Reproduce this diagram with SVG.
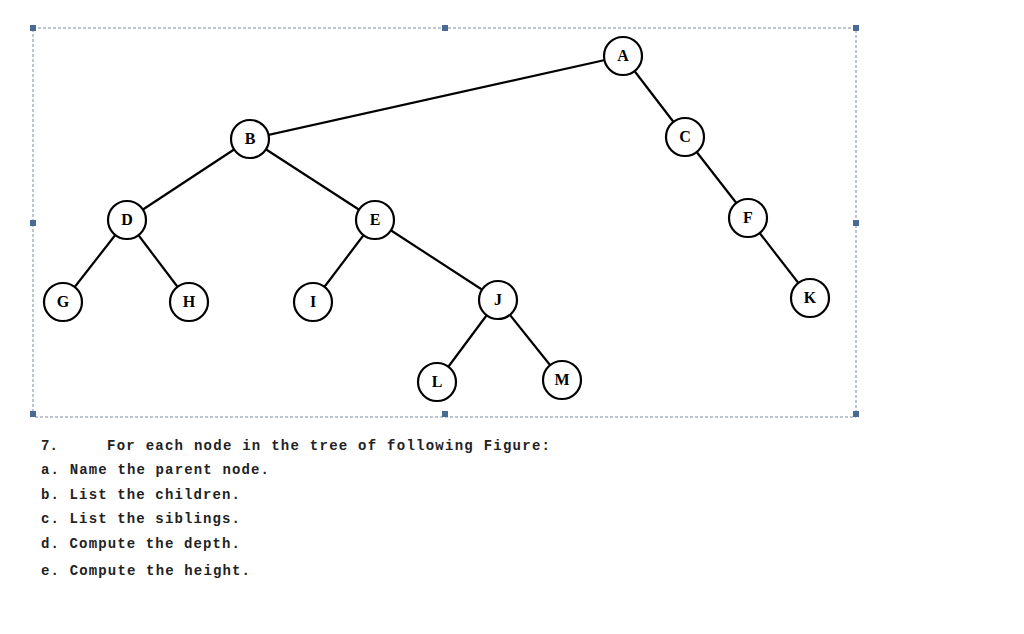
<svg xmlns="http://www.w3.org/2000/svg" width="1024" height="634" viewBox="0 0 1024 634">
<style>
.n circle{fill:#fff;stroke:#000;stroke-width:2.2}
.n text{font-family:"Liberation Serif",serif;font-weight:bold;font-size:16px;text-anchor:middle}
.e line{stroke:#000;stroke-width:2.2}
.h{fill:#4a6a96}
.t{font-family:"Liberation Mono",monospace;font-size:14px;font-weight:bold;fill:#222}
</style>
<rect x="33" y="28" width="823" height="389" fill="none" stroke="#7a8ca8" stroke-dasharray="3,2"/>
<g>
<rect class="h" x="30" y="25" width="6" height="6"/><rect class="h" x="442" y="25" width="6" height="6"/><rect class="h" x="853" y="25" width="6" height="6"/>
<rect class="h" x="30" y="220" width="6" height="6"/><rect class="h" x="853" y="220" width="6" height="6"/>
<rect class="h" x="30" y="411" width="6" height="6"/><rect class="h" x="442" y="411" width="6" height="6"/><rect class="h" x="853" y="411" width="6" height="6"/>
</g>
<g class="e">
<line x1="623" y1="56" x2="250" y2="139"/><line x1="623" y1="56" x2="685" y2="137"/>
<line x1="685" y1="137" x2="748" y2="218"/><line x1="748" y1="218" x2="810" y2="298"/>
<line x1="250" y1="139" x2="127" y2="220"/><line x1="250" y1="139" x2="375" y2="220"/>
<line x1="127" y1="220" x2="63" y2="302"/><line x1="127" y1="220" x2="189" y2="302"/>
<line x1="375" y1="220" x2="313" y2="302"/><line x1="375" y1="220" x2="498" y2="300"/>
<line x1="498" y1="300" x2="437" y2="382"/><line x1="498" y1="300" x2="562" y2="380"/>
</g>
<g id="A" class="n"><circle cx="623" cy="56" r="19"/><text x="623" y="61">A</text></g>
<g id="B" class="n"><circle cx="250" cy="139" r="19"/><text x="250" y="144">B</text></g>
<g id="C" class="n"><circle cx="685" cy="137" r="19"/><text x="685" y="142">C</text></g>
<g id="D" class="n"><circle cx="127" cy="220" r="19"/><text x="127" y="225">D</text></g>
<g id="E" class="n"><circle cx="375" cy="220" r="19"/><text x="375" y="225">E</text></g>
<g id="F" class="n"><circle cx="748" cy="218" r="19"/><text x="748" y="223">F</text></g>
<g id="G" class="n"><circle cx="63" cy="302" r="19"/><text x="63" y="307">G</text></g>
<g id="H" class="n"><circle cx="189" cy="302" r="19"/><text x="189" y="307">H</text></g>
<g id="I" class="n"><circle cx="313" cy="302" r="19"/><text x="313" y="307">I</text></g>
<g id="J" class="n"><circle cx="498" cy="300" r="19"/><text x="498" y="305">J</text></g>
<g id="K" class="n"><circle cx="810" cy="298" r="19"/><text x="810" y="303">K</text></g>
<g id="L" class="n"><circle cx="437" cy="382" r="19"/><text x="437" y="387">L</text></g>
<g id="M" class="n"><circle cx="562" cy="380" r="19"/><text x="562" y="385">M</text></g>
<g class="t">
<text x="41" y="450">7.</text>
<text x="107" y="450" textLength="443">For each node in the tree of following Figure:</text>
<text x="41" y="474" textLength="228">a. Name the parent node.</text>
<text x="41" y="499" textLength="199">b. List the children.</text>
<text x="41" y="523" textLength="199">c. List the siblings.</text>
<text x="41" y="548" textLength="199">d. Compute the depth.</text>
<text x="41" y="575" textLength="209">e. Compute the height.</text>
</g>
</svg>
